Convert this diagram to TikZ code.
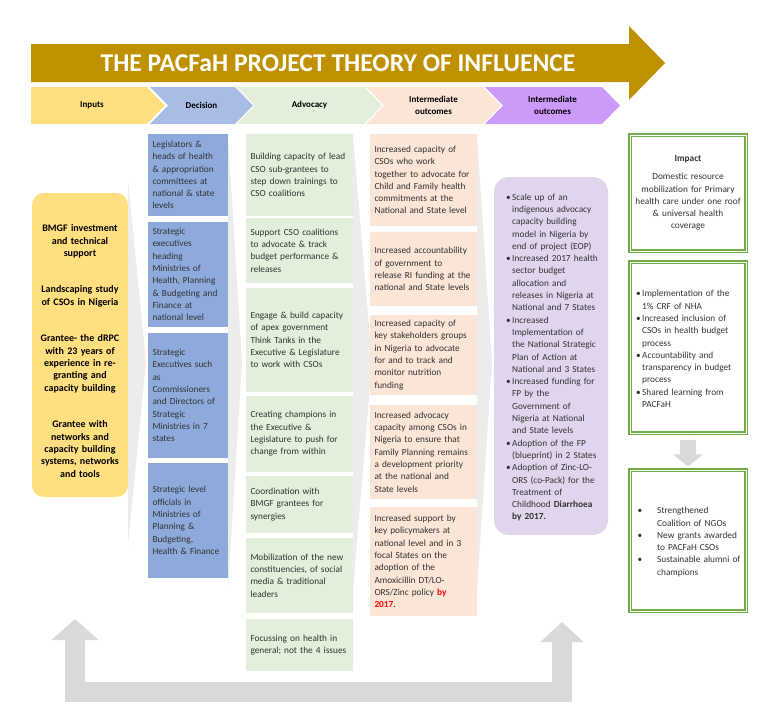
\documentclass[tikz,border=0pt]{standalone}
\usepackage{fontspec}
\setmainfont{Carlito}
\usetikzlibrary{arrows.meta}
\definecolor{titlegold}{HTML}{BF9000}
\definecolor{inyellow}{HTML}{FFDF80}
\definecolor{decchev}{HTML}{A9BDE4}
\definecolor{decblue}{HTML}{8EAADB}
\definecolor{advgreen}{HTML}{E2EFDA}
\definecolor{peach}{HTML}{FBE5D6}
\definecolor{purpchev}{HTML}{CC9BFA}
\definecolor{purplefill}{HTML}{E1D5EE}
\definecolor{impgreen}{HTML}{70AD47}
\definecolor{arrowgray}{HTML}{D9D9D9}
\definecolor{backgray}{HTML}{ECECEC}
\hyphenpenalty=10000
\exhyphenpenalty=10000
\newcommand\bodyfont{\fontsize{9.3}{12.3}\selectfont}
\newcommand\bul{\leavevmode\llap{\textbullet\hspace{1.5pt}}}
\newcommand\widebul{\leavevmode\llap{\textbullet\hspace{15pt}}}

\begin{document}
\begin{tikzpicture}[x=1pt,y=-1pt,
    every node/.style={text=black!80},
    chevlabel/.style={font=\bfseries\fontsize{9}{12}\selectfont, align=center, text=black},
    colbox/.style={font=\bodyfont, align=left, inner xsep=4.5pt, inner ysep=0pt},
    decbox/.style={colbox, fill=decblue, text width=71pt},
    advbox/.style={colbox, fill=advgreen, text width=98pt},
    outbox/.style={colbox, fill=peach, text width=98pt},
    inbox/.style={fill=inyellow, rounded corners=12pt, minimum width=96pt, minimum height=304pt},
    intext/.style={text width=88pt, inner sep=0pt, align=center, text=black, font=\bfseries\fontsize{10}{12.4}\selectfont},
    goalbox/.style={fill=purplefill, rounded corners=15pt, minimum width=114pt, minimum height=358pt},
    impbox/.style={draw=impgreen, line width=1.5pt, double=white, double distance=1pt,
        minimum width=116pt, inner xsep=2pt, text width=112pt, font=\bodyfont},
    listtext/.style={font=\bodyfont, align=left, inner sep=0pt, anchor=west}]
    \useasboundingbox (0,0) rectangle (768,715);

    \fill[titlegold] (31,44) -- (629,44) -- (629,26) -- (665,63) -- (629,100) -- (629,82) -- (31,82) -- cycle;
    \node[font=\bfseries\fontsize{25.6}{30}\selectfont, text=white] (title) at (338,63) {THE PACFaH PROJECT THEORY OF INFLUENCE};

    \fill[inyellow] (31,87) -- (147,87) -- (165,105.5) -- (147,124) -- (31,124) -- cycle;
    \node[chevlabel] (chev0) at (92,105.5) {Inputs};
    \foreach \xa/\xb/\col/\lab [count=\k] in {150/235/decchev/Decision, 237/364/advgreen/Advocacy,
        366/483/peach/{Intermediate\\outcomes}, 485/602/purpchev/{Intermediate\\outcomes}} {
        \fill[\col] (\xa,87) -- (\xb,87) -- (\xb+18,105.5) -- (\xb,124) -- (\xa,124) -- (\xa+18,105.5) -- cycle;
        \node[chevlabel] (chev\k) at ({(\xa+\xb)/2+9},105.5) {\lab};
    }

    \fill[backgray] (128,180) -- (146,362) -- (128,545) -- cycle;
    \foreach \xr/\xt in {228/242, 353/372, 477/492}
        \fill[backgray] (\xr,135) -- (\xt,362) -- (\xr,590) -- cycle;

    \node[inbox] (inp) at (80,345) {};
    \node[intext] (inptxt) at (80,351) {BMGF investment\\and technical\\support\\[24pt]
        Landscaping study\\of CSOs in Nigeria\\[24pt]
        Grantee- the dRPC\\with 23 years of\\experience in re-\\granting and\\capacity building\\[24pt]
        Grantee with\\networks and\\capacity building\\systems, networks\\and tools};

    \node[decbox, minimum height=82pt] (dec1) at (188,175) {Legislators \&\\heads of health\\\& appropriation\\committees at\\national \& state\\levels};
    \node[decbox, minimum height=105pt] (dec2) at (188,274.5) {Strategic\\executives\\heading\\Ministries of\\Health, Planning\\\& Budgeting and\\Finance at\\national level};
    \node[decbox, minimum height=125pt] (dec3) at (188,395.5) {Strategic\\Executives such\\as\\Commissioners\\and Directors of\\Strategic\\Ministries in 7\\states};
    \node[decbox, minimum height=115pt] (dec4) at (188,520.5) {Strategic level\\officials in\\Ministries of\\Planning \&\\Budgeting,\\Health \& Finance};

    \node[advbox, minimum height=82pt] (adv1) at (299.5,175) {Building capacity of lead\\CSO sub-grantees to\\step down trainings to\\CSO coalitions};
    \node[advbox, minimum height=65pt] (adv2) at (299.5,250.5) {Support CSO coalitions\\to advocate \& track\\budget performance \&\\releases};
    \node[advbox, minimum height=104pt] (adv3) at (299.5,340) {Engage \& build capacity\\of apex government\\Think Tanks in the\\Executive \& Legislature\\to work with CSOs};
    \node[advbox, minimum height=76pt] (adv4) at (299.5,434) {Creating champions in\\the Executive \&\\Legislature to push for\\change from within};
    \node[advbox, minimum height=57pt] (adv5) at (299.5,504.5) {Coordination with\\BMGF grantees for\\synergies};
    \node[advbox, minimum height=75pt] (adv6) at (299.5,575.5) {Mobilization of the new\\constituencies, of social\\media \& traditional\\leaders};
    \node[advbox, minimum height=52pt] (adv7) at (299.5,645) {Focussing on health in\\general; not the 4 issues};

    \node[outbox, minimum height=92pt] (out1) at (423.5,180) {Increased capacity of\\CSOs who work\\together to advocate for\\Child and Family health\\commitments at the\\National and State level};
    \node[outbox, minimum height=74pt] (out2) at (423.5,269) {Increased accountability\\of government to\\release RI funding at the\\national and State levels};
    \node[outbox, minimum height=80pt] (out3) at (423.5,355) {Increased capacity of\\key stakeholders groups\\in Nigeria to advocate\\for and to track and\\monitor nutrition\\funding};
    \node[outbox, minimum height=94pt] (out4) at (423.5,452) {Increased advocacy\\capacity among CSOs in\\Nigeria to ensure that\\Family Planning remains\\a development priority\\at the national and\\State levels};
    \node[outbox, minimum height=109pt] (out5) at (423.5,561.5) {Increased support by\\key policymakers at\\national level and in 3\\focal States on the\\adoption of the\\Amoxicillin DT/LO-\\ORS/Zinc policy \textcolor{red}{\textbf{by}}\\\textcolor{red}{\textbf{2017.}}};

    \node[goalbox] (goal) at (551,356) {};
    \node[listtext, text width=94pt] (goaltxt) at (512,357.5) {\bul Scale up of an\\indigenous advocacy\\capacity building\\model in Nigeria by\\end of project (EOP)\\
        \bul Increased 2017 health\\sector budget\\allocation and\\releases in Nigeria at\\National and 7 States\\
        \bul Increased\\Implementation of\\the National Strategic\\Plan of Action at\\National and 3 States\\
        \bul Increased funding for\\FP by the\\Government of\\Nigeria at National\\and State levels\\
        \bul Adoption of the FP\\(blueprint) in 2 States\\
        \bul Adoption of Zinc-LO-\\ORS (co-Pack) for the\\Treatment of\\Childhood \textbf{Diarrhoea}\\\textbf{by 2017.}};

    \node[impbox, minimum height=116pt, align=center] (imp1) at (688,193) {\textbf{Impact}\\[6pt]Domestic resource\\mobilization for Primary\\health care under one roof\\\& universal health\\coverage};
    \node[impbox, minimum height=171pt] (imp2) at (688,347.5) {};
    \node[listtext, text width=100pt] (imp2txt) at (642,349) {\bul Implementation of the\\1\% CRF of NHA\\
        \bul Increased inclusion of\\CSOs in health budget\\process\\
        \bul Accountability and\\transparency in budget\\process\\
        \bul Shared learning from\\PACFaH};
    \node[impbox, minimum height=141pt] (imp3) at (688,540.5) {};
    \node[listtext, text width=86pt] (imp3txt) at (657,542) {\widebul Strengthened\\Coalition of NGOs\\
        \widebul New grants awarded\\to PACFaH CSOs\\
        \widebul Sustainable alumni of\\champions};

    \draw[arrowgray, line width=16pt, -{Triangle[width=30pt,length=12pt]}, shorten <=6pt, shorten >=3pt] (imp2.south) -- (imp3.north);

    \coordinate (loopl) at (75,619);
    \coordinate (loopr) at (562,622);
    \coordinate (loopb) at (0,692);
    \draw[arrowgray, line width=20pt, {Triangle[width=46pt,length=21pt]}-{Triangle[width=42pt,length=20pt]}]
        (loopl) -- (loopl |- loopb) -- (loopr |- loopb) -- (loopr);
\end{tikzpicture}
\end{document}
